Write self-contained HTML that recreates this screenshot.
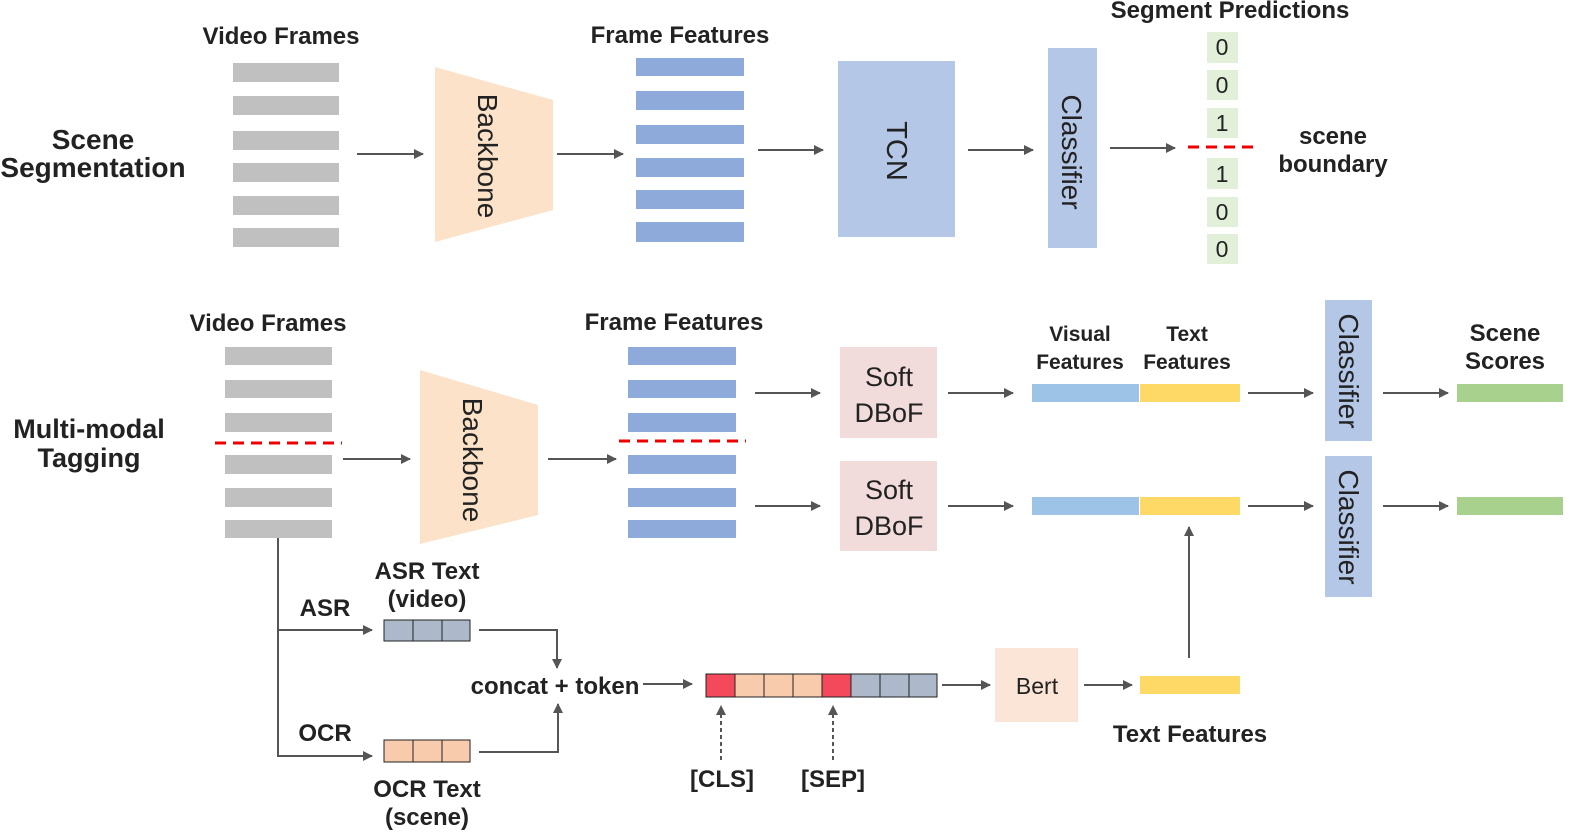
<!DOCTYPE html>
<html><head><meta charset="utf-8"><style>
html,body{margin:0;padding:0;background:#fff;width:1570px;height:832px;overflow:hidden}
text{font-family:"Liberation Sans",Arial,sans-serif;fill:#222}
.b{font-weight:bold;font-size:24px}
</style></head><body>
<svg width="1570" height="832" viewBox="0 0 1570 832" xmlns="http://www.w3.org/2000/svg">
<defs><marker id="a" markerWidth="10" markerHeight="10" refX="9" refY="5" orient="auto" markerUnits="userSpaceOnUse"><path d="M0,0 L10,5 L0,10 z" fill="#555"/></marker></defs>
<g stroke="#555" stroke-width="2" fill="none" marker-end="url(#a)">
<line x1="357" y1="154" x2="423" y2="154"/><line x1="557" y1="154" x2="623" y2="154"/>
<line x1="758" y1="150" x2="823" y2="150"/><line x1="968" y1="150" x2="1033" y2="150"/>
<line x1="1110" y1="148" x2="1175" y2="148"/>
<line x1="343" y1="459" x2="410" y2="459"/><line x1="548" y1="459" x2="616" y2="459"/>
<line x1="755" y1="393" x2="820" y2="393"/><line x1="755" y1="506" x2="820" y2="506"/>
<line x1="948" y1="393" x2="1013" y2="393"/><line x1="948" y1="506" x2="1013" y2="506"/>
<line x1="1248" y1="393" x2="1313" y2="393"/><line x1="1248" y1="506" x2="1313" y2="506"/>
<line x1="1383" y1="393" x2="1448" y2="393"/><line x1="1383" y1="506" x2="1448" y2="506"/>
<polyline points="278,538 278,630 372,630"/><polyline points="278,630 278,756 372,756"/>
<polyline points="479,630 557,630 557,668"/><polyline points="479,752 558,752 558,704"/>
<line x1="643" y1="684" x2="692" y2="684"/><line x1="942" y1="685" x2="990" y2="685"/>
<line x1="1084" y1="685" x2="1132" y2="685"/><line x1="1189" y1="658" x2="1189" y2="527"/>
<line x1="721" y1="760" x2="721" y2="706" stroke-dasharray="4,3"/><line x1="833" y1="760" x2="833" y2="706" stroke-dasharray="4,3"/>
</g>
<g fill="#c0c0c0">
<rect x="233" y="63" width="106" height="19"/><rect x="233" y="96" width="106" height="19"/><rect x="233" y="131" width="106" height="19"/><rect x="233" y="163" width="106" height="19"/><rect x="233" y="196" width="106" height="19"/><rect x="233" y="228" width="106" height="19"/>
<rect x="225" y="347" width="107" height="18"/><rect x="225" y="380" width="107" height="18"/><rect x="225" y="413" width="107" height="19"/><rect x="225" y="455" width="107" height="19"/><rect x="225" y="488" width="107" height="19"/><rect x="225" y="520" width="107" height="18"/>
</g>
<g fill="#8eaadb">
<rect x="636" y="58" width="108" height="18"/><rect x="636" y="91" width="108" height="19"/><rect x="636" y="125" width="108" height="19"/><rect x="636" y="158" width="108" height="19"/><rect x="636" y="190" width="108" height="19"/><rect x="636" y="222" width="108" height="20"/>
<rect x="628" y="347" width="108" height="18"/><rect x="628" y="380" width="108" height="18"/><rect x="628" y="413" width="108" height="19"/><rect x="628" y="455" width="108" height="19"/><rect x="628" y="488" width="108" height="19"/><rect x="628" y="520" width="108" height="18"/>
</g>
<polygon points="435,67 553,100 553,210 435,242" fill="#fbe2c8"/>
<polygon points="420,370 538,405 538,515 420,544" fill="#fbe2c8"/>
<rect x="838" y="61" width="117" height="176" fill="#b4c7e7"/>
<rect x="1048" y="48" width="49" height="200" fill="#b4c7e7"/>
<rect x="1325" y="300" width="47" height="141" fill="#b4c7e7"/>
<rect x="1325" y="456" width="47" height="141" fill="#b4c7e7"/>
<g fill="#e2f0d9"><rect x="1207" y="32" width="31" height="31"/><rect x="1207" y="70" width="31" height="30"/><rect x="1207" y="108" width="31" height="30"/><rect x="1207" y="158" width="31" height="31"/><rect x="1207" y="197" width="31" height="30"/><rect x="1207" y="234" width="31" height="30"/></g>
<g font-size="23" text-anchor="middle"><text x="1222" y="55">0</text><text x="1222" y="93">0</text><text x="1222" y="131">1</text><text x="1222" y="182">1</text><text x="1222" y="220">0</text><text x="1222" y="257">0</text></g>
<g stroke="#e00" stroke-width="3" stroke-dasharray="11,7"><line x1="1188" y1="147" x2="1260" y2="147"/><line x1="215" y1="443" x2="342" y2="443"/><line x1="619" y1="441" x2="746" y2="441"/></g>
<rect x="840" y="347" width="97" height="91" fill="#f2dcdb"/><rect x="840" y="461" width="97" height="90" fill="#f2dcdb"/>
<g font-size="27" text-anchor="middle"><text x="889" y="386">Soft</text><text x="889" y="422">DBoF</text><text x="889" y="499">Soft</text><text x="889" y="535">DBoF</text></g>
<rect x="1032" y="384" width="107" height="18" fill="#9dc3e6"/><rect x="1140" y="384" width="100" height="18" fill="#ffd966"/>
<rect x="1032" y="497" width="107" height="18" fill="#9dc3e6"/><rect x="1140" y="497" width="100" height="18" fill="#ffd966"/>
<rect x="1457" y="384" width="106" height="18" fill="#a9d18e"/><rect x="1457" y="497" width="106" height="18" fill="#a9d18e"/>
<rect x="1140" y="676" width="100" height="18" fill="#ffd966"/>
<rect x="995" y="648" width="83" height="74" fill="#fbe5d6"/>
<text x="1037" y="694" font-size="23" text-anchor="middle">Bert</text>
<g stroke="#222" stroke-width="1">
<rect x="384" y="620" width="29" height="21" fill="#adb9ca"/><rect x="413" y="620" width="29" height="21" fill="#adb9ca"/><rect x="442" y="620" width="28" height="21" fill="#adb9ca"/>
<rect x="384" y="740" width="29" height="22" fill="#f8cbad"/><rect x="413" y="740" width="29" height="22" fill="#f8cbad"/><rect x="442" y="740" width="28" height="22" fill="#f8cbad"/>
<rect x="706" y="674" width="29" height="23" fill="#f4485b"/><rect x="735" y="674" width="29" height="23" fill="#f8cbad"/><rect x="764" y="674" width="29" height="23" fill="#f8cbad"/><rect x="793" y="674" width="29" height="23" fill="#f8cbad"/><rect x="822" y="674" width="29" height="23" fill="#f4485b"/><rect x="851" y="674" width="29" height="23" fill="#adb9ca"/><rect x="880" y="674" width="29" height="23" fill="#adb9ca"/><rect x="909" y="674" width="28" height="23" fill="#adb9ca"/>
</g>
<g font-size="28">
<text transform="translate(478,156) rotate(90)" text-anchor="middle">Backbone</text>
<text transform="translate(463,460) rotate(90)" text-anchor="middle">Backbone</text>
<text transform="translate(887,151) rotate(90)" text-anchor="middle" font-size="29">TCN</text>
<text transform="translate(1062,152) rotate(90)" text-anchor="middle">Classifier</text>
<text transform="translate(1339,371) rotate(90)" text-anchor="middle">Classifier</text>
<text transform="translate(1339,527) rotate(90)" text-anchor="middle">Classifier</text>
</g>
<g class="b" text-anchor="middle">
<text x="281" y="44">Video Frames</text><text x="680" y="43">Frame Features</text><text x="1230" y="18">Segment Predictions</text>
<text x="1333" y="144">scene</text><text x="1333" y="172">boundary</text>
<text x="93" y="149" font-size="28">Scene</text><text x="93" y="177" font-size="28">Segmentation</text>
<text x="268" y="331">Video Frames</text><text x="674" y="330">Frame Features</text>
<text x="89" y="438" font-size="27">Multi-modal</text><text x="89" y="467" font-size="27">Tagging</text>
<text x="1080" y="341" font-size="21">Visual</text><text x="1080" y="369" font-size="21">Features</text>
<text x="1187" y="341" font-size="21">Text</text><text x="1187" y="369" font-size="21">Features</text>
<text x="1505" y="341">Scene</text><text x="1505" y="369">Scores</text>
<text x="325" y="616">ASR</text><text x="325" y="741">OCR</text>
<text x="427" y="579">ASR Text</text><text x="427" y="607">(video)</text>
<text x="427" y="797">OCR Text</text><text x="427" y="825">(scene)</text>
<text x="555" y="694">concat + token</text>
<text x="722" y="787">[CLS]</text><text x="833" y="787">[SEP]</text>
<text x="1190" y="742">Text Features</text>
</g>
</svg>
</body></html>
